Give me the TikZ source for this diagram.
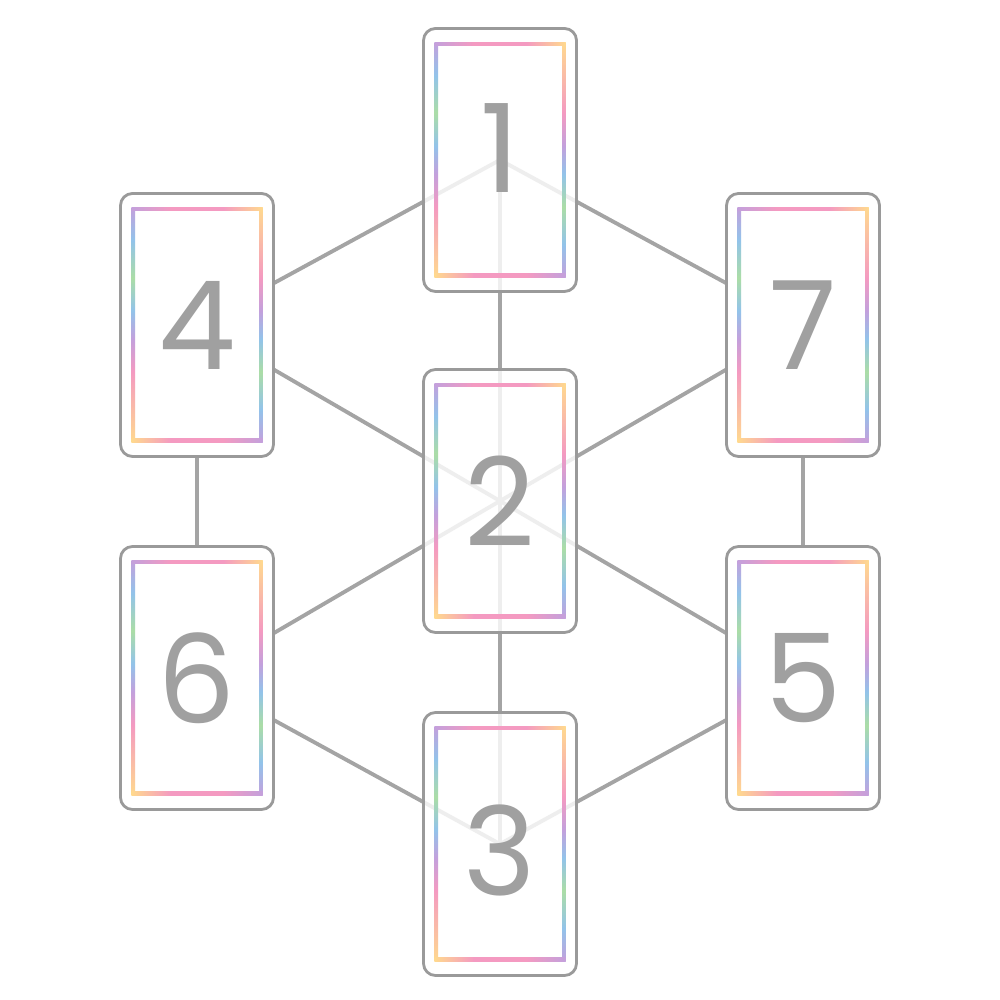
\documentclass[tikz,border=0pt]{standalone}
\usepackage{fontspec}
\setmainfont{Poppins}
\usetikzlibrary{backgrounds,calc}

\definecolor{lineGray}{HTML}{A4A4A4}
\definecolor{cardGray}{HTML}{9A9A9A}
\definecolor{numGray}{HTML}{A0A0A0}
\definecolor{rYel}{HTML}{FFD98E}
\definecolor{rPink}{HTML}{F49AC1}
\definecolor{rPur}{HTML}{C3A0DC}
\definecolor{rBlu}{HTML}{92C3EA}
\definecolor{rGrn}{HTML}{ABDDA6}

\pgfdeclareverticalshading{rainL}{100bp}{color(0bp)=(rYel); color(25bp)=(rYel); color(40bp)=(rPink); color(47bp)=(rPur); color(53bp)=(rBlu); color(60bp)=(rGrn); color(68bp)=(rBlu); color(75bp)=(rPur); color(100bp)=(rPur)}
\pgfdeclareverticalshading{rainR}{100bp}{color(0bp)=(rPur); color(25bp)=(rPur); color(32bp)=(rBlu); color(40bp)=(rGrn); color(47bp)=(rBlu); color(53bp)=(rPur); color(60bp)=(rPink); color(75bp)=(rYel); color(100bp)=(rYel)}
\pgfdeclarehorizontalshading{rainT}{100bp}{color(0bp)=(rPur); color(25bp)=(rPur); color(40bp)=(rPink); color(60bp)=(rPink); color(75bp)=(rYel); color(100bp)=(rYel)}
\pgfdeclarehorizontalshading{rainB}{100bp}{color(0bp)=(rYel); color(25bp)=(rYel); color(40bp)=(rPink); color(60bp)=(rPink); color(75bp)=(rPur); color(100bp)=(rPur)}

\begin{document}
\begin{tikzpicture} [
    card/.style={rectangle, rounded corners=1.2mm, draw=cardGray, line width=0.8pt, fill=white, fill opacity=0.82, text opacity=1, minimum width=1.53cm, minimum height=2.63cm, inner sep=0pt},
    sidecard/.style={card, fill opacity=1},
    num/.style={text=numGray, font=\fontsize{35}{35}\selectfont, inner sep=0pt},
    link/.style={draw=lineGray, line width=1.1pt},
    ]
    \useasboundingbox (0,0) rectangle (10,10);

    %Cards
    \node[card]      (c1)      at (5.00,8.40) {};
    \node[sidecard]  (c4)      at (1.97,6.75) {};
    \node[sidecard]  (c7)      at (8.03,6.75) {};
    \node[card]      (c2)      at (5.00,4.99) {};
    \node[sidecard]  (c6)      at (1.97,3.22) {};
    \node[sidecard]  (c5)      at (8.03,3.22) {};
    \node[card]      (c3)      at (5.00,1.56) {};

    %Rainbow frames
    \foreach \c in {c1,c2,c3,c4,c5,c6,c7} {
        \shade[shading=rainL] ($(\c.center)+(-0.655,-1.175)$) rectangle ++(0.035,2.35);
        \shade[shading=rainR] ($(\c.center)+(0.62,-1.175)$) rectangle ++(0.035,2.35);
        \shade[shading=rainT] ($(\c.center)+(-0.655,1.14)$) rectangle ++(1.31,0.035);
        \shade[shading=rainB] ($(\c.center)+(-0.655,-1.175)$) rectangle ++(1.31,0.035);
    }

    %Numbers
    \node[num]       (n1)      at ([yshift=1.2mm]c1.center) {1};
    \node[num]       (n4)      at (c4.center) {4};
    \node[num]       (n7)      at (c7.center) {7};
    \node[num]       (n2)      at (c2.center) {2};
    \node[num]       (n6)      at (c6.center) {6};
    \node[num]       (n5)      at (c5.center) {5};
    \node[num]       (n3)      at ([yshift=-0.6mm]c3.center) {3};

    %Lines
    \begin{scope}[on background layer]
        \foreach \a/\b in {c1/c4,c1/c7,c1/c2,c4/c2,c7/c2,c4/c6,c7/c5,c2/c6,c2/c5,c2/c3,c6/c3,c5/c3}
            \draw[link] (\a.center) -- (\b.center);
    \end{scope}

\end{tikzpicture}
\end{document}
